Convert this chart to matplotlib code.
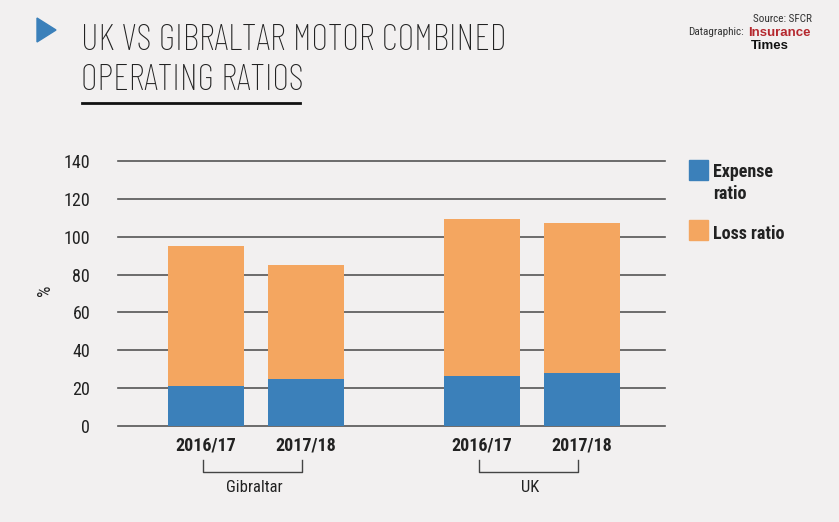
import matplotlib.pyplot as plt
import matplotlib.transforms as transforms
from matplotlib.patches import Polygon

GROUPS = ["Gibraltar", "UK"]
PERIODS = ["2016/17", "2017/18", "2016/17", "2017/18"]
EXPENSE_RATIO = [21.1, 25.0, 26.6, 28.2]
LOSS_RATIO = [74.0, 60.0, 82.8, 79.2]
Y_TICKS = [0, 20, 40, 60, 80, 100, 120, 140]

BLUE = "#3b80ba"
ORANGE = "#f4a660"
BG = "#f2f0f0"
INK = "#222222"
TITLE_FONT = ["Barlow Condensed", "Roboto Condensed", "DejaVu Sans"]
BRAND_FONT = ["Liberation Sans", "DejaVu Sans"]

plt.rcParams["font.family"] = ["Roboto Condensed", "DejaVu Sans"]


def fig_y(pixel_y):
    return 1 - pixel_y / 522


def fig_x(pixel_x):
    return pixel_x / 839


fig = plt.figure(figsize=(8.39, 5.22), dpi=100, facecolor=BG)
ax = fig.add_axes([0.1406, 0.1839, 0.652, 0.5077])
ax.set_facecolor(BG)

x_pos = [0, 1, 2.76, 3.76]
ax.bar(x_pos, EXPENSE_RATIO, width=0.76, color=BLUE, zorder=3)
ax.bar(x_pos, LOSS_RATIO, width=0.76, bottom=EXPENSE_RATIO, color=ORANGE, zorder=3)

ax.set_xlim(-0.88, 4.59)
ax.set_ylim(0, 140)
ax.set_yticks(Y_TICKS)
ax.set_yticklabels([str(t) for t in Y_TICKS], fontsize=13, color=INK)
ax.tick_params(axis="y", length=0, pad=20)
ax.set_xticks([])
for t in Y_TICKS:
    ax.axhline(t, color="#555555", linewidth=1.2, zorder=1, clip_on=False)
for side in ax.spines.values():
    side.set_visible(False)

fig.text(fig_x(45), fig_y(290), "%", rotation=90, ha="center", va="center",
         fontsize=13, color=INK)

# period labels and group brackets
trans = transforms.blended_transform_factory(ax.transData, fig.transFigure)
for x, label in zip(x_pos, PERIODS):
    ax.text(x, fig_y(445), label, transform=trans, ha="center", va="center",
            fontsize=13, fontweight="bold", color=INK)
for i, group in enumerate(GROUPS):
    x0, x1 = x_pos[2 * i] - 0.03, x_pos[2 * i + 1] - 0.04
    ax.plot([x0, x0, x1, x1], [fig_y(460), fig_y(472), fig_y(472), fig_y(460)],
            transform=trans, color="#444444", linewidth=1, clip_on=False)
    ax.text((x0 + x1) / 2 + 0.02, fig_y(487), group, transform=trans,
            ha="center", va="center", fontsize=12, color=INK)

# legend
fig.patches.append(plt.Rectangle((fig_x(689), fig_y(180)), 19 / 839, 20 / 522,
                                 transform=fig.transFigure, color=BLUE))
fig.patches.append(plt.Rectangle((fig_x(689), fig_y(240)), 19 / 839, 20 / 522,
                                 transform=fig.transFigure, color=ORANGE))
fig.text(fig_x(713), fig_y(183), "Expense\nratio", ha="left", va="center",
         fontsize=13, fontweight="bold", color=INK, linespacing=1.25)
fig.text(fig_x(713), fig_y(234), "Loss ratio", ha="left", va="center",
         fontsize=13, fontweight="bold", color=INK)

# title block
fig.patches.append(Polygon([(fig_x(37), fig_y(18)), (fig_x(37), fig_y(42)),
                            (fig_x(56), fig_y(30))], closed=True,
                           transform=fig.transFigure, color=BLUE))
fig.text(fig_x(81), fig_y(50), "UK VS GIBRALTAR MOTOR COMBINED",
         ha="left", va="baseline", fontsize=26.5, fontweight="light", color=INK,
         family=TITLE_FONT)
fig.text(fig_x(81), fig_y(90), "OPERATING RATIOS",
         ha="left", va="baseline", fontsize=26.5, fontweight="light", color=INK,
         family=TITLE_FONT)
fig.add_artist(plt.Line2D([fig_x(82), fig_x(300)], [fig_y(103), fig_y(103)],
                          transform=fig.transFigure, color="#111111", linewidth=2))

# source block
fig.text(fig_x(812), fig_y(19), "Source: SFCR", ha="right", va="center",
         fontsize=8, color="#333333")
fig.text(fig_x(744), fig_y(32), "Datagraphic:", ha="right", va="center",
         fontsize=8, color="#333333")
fig.text(fig_x(748), fig_y(36), "Insurance", ha="left", va="baseline",
         fontsize=9.5, fontweight="bold", color="#b5282e", family=BRAND_FONT)
fig.text(fig_x(751), fig_y(49), "Times", ha="left", va="baseline",
         fontsize=9.5, fontweight="bold", color="#111111", family=BRAND_FONT)

fig.savefig("out.png", dpi=100, facecolor=BG)
